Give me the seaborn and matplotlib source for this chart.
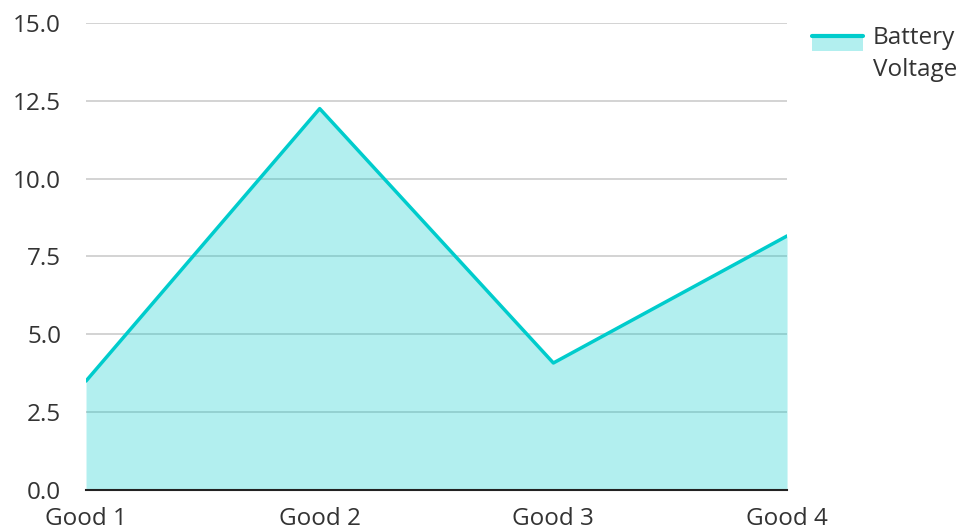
import pandas as pd
import matplotlib
matplotlib.use('Agg')
import matplotlib.pyplot as plt
import seaborn as sns
from matplotlib.legend_handler import HandlerBase
from matplotlib.patches import Rectangle
from matplotlib.lines import Line2D

# --- data ---
categories = ['Good 1', 'Good 2', 'Good 3', 'Good 4']
battery_voltage = [3.5, 12.25, 4.08, 8.16]
y_ticks = [0.0, 2.5, 5.0, 7.5, 10.0, 12.5, 15.0]

df = pd.DataFrame({'good': categories, 'voltage': battery_voltage})
df['pos'] = range(len(df))

line_color = '#00cccc'
fill_alpha = 0.3
text_color = '#333333'

sns.set_theme(style='white')
plt.rcParams['font.family'] = ['Open Sans', 'DejaVu Sans']


class AreaHandler(HandlerBase):
    # filled box with the line along its top edge, pushed up to the first text line
    def create_artists(self, legend, orig_handle, xdescent, ydescent,
                       width, height, fontsize, trans):
        shift = 7.5
        y0 = -ydescent + shift
        rect = Rectangle((-xdescent, y0), width, height,
                         facecolor=line_color, alpha=fill_alpha,
                         edgecolor='none', transform=trans)
        ln = Line2D([-xdescent, -xdescent + width], [y0 + height] * 2,
                    color=line_color, linewidth=3, transform=trans)
        return [rect, ln]


fig = plt.figure(figsize=(9.61, 5.31), dpi=100)
ax = fig.add_axes([0.0895, 0.0772, 0.7295, 0.8795])

ax.set_axisbelow(True)
ax.grid(axis='y', color='#c8c8c8', linewidth=1.1, zorder=0)
ax.grid(axis='x', visible=False)

ax.fill_between(df['pos'], df['voltage'], 0, color=line_color, alpha=fill_alpha,
                linewidth=0, zorder=1)
sns.lineplot(data=df, x='pos', y='voltage', color=line_color, linewidth=2.5,
             ax=ax, zorder=3, legend=False)

ax.set_xlim(0, 3)
ax.set_ylim(0, 15)
ax.set_xticks(df['pos'])
ax.set_xticklabels(categories)
ax.set_yticks(y_ticks)
ax.set_yticklabels([f'{v:.1f}' for v in y_ticks])
ax.set_xlabel('')
ax.set_ylabel('')

for s in ['top', 'right', 'left']:
    ax.spines[s].set_visible(False)
ax.spines['bottom'].set_color('#222222')
ax.spines['bottom'].set_linewidth(1.5)
ax.spines['bottom'].set_zorder(4)

ax.tick_params(axis='both', length=0, labelsize=17.5, labelcolor=text_color)
ax.tick_params(axis='y', pad=18)
ax.tick_params(axis='x', pad=12)

leg = ax.legend([object()], ['Battery\nVoltage'], handler_map={object: AreaHandler()},
                loc='upper left', bbox_to_anchor=(1.029, 1.005), frameon=False,
                fontsize=17.5, labelcolor=text_color, handlelength=2.1,
                handleheight=0.55, handletextpad=0.4, borderpad=0.2,
                borderaxespad=0)
for t in leg.get_texts():
    t.set_linespacing(1.45)

fig.savefig('out.png', dpi=100)
